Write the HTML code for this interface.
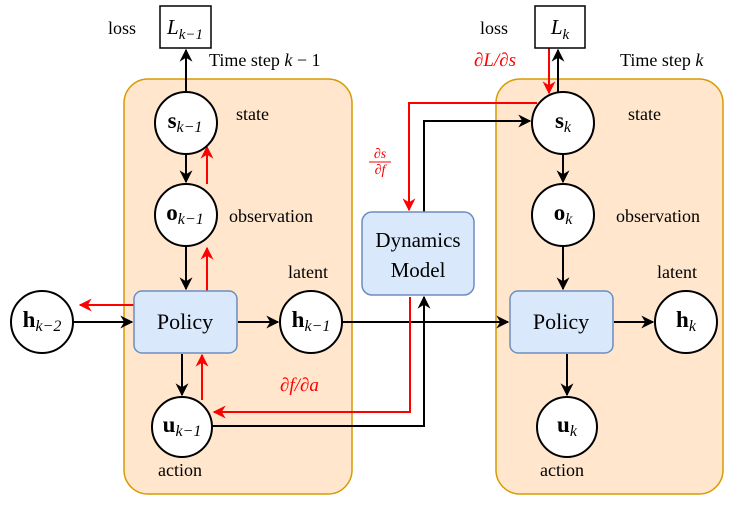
<!DOCTYPE html>
<html><head><style>
body{margin:0;background:#fff}
svg text{font-family:"Liberation Serif",serif}
</style></head><body>
<svg width="746" height="515" viewBox="0 0 746 515" xmlns="http://www.w3.org/2000/svg">
<defs>
<marker id="ab" viewBox="0 0 10 10" refX="9" refY="5" markerWidth="6.5" markerHeight="6.5" orient="auto"><path d="M0,0 L10,5 L0,10 L3,5z" fill="#000"/></marker>
<marker id="ar" viewBox="0 0 10 10" refX="9" refY="5" markerWidth="6.5" markerHeight="6.5" orient="auto"><path d="M0,0 L10,5 L0,10 L3,5z" fill="#f00"/></marker>
</defs>
<rect x="124" y="79" width="228" height="415" rx="24" fill="#ffe6cc" stroke="#d79b00" stroke-width="1.5"/>
<rect x="496" y="79" width="227" height="415" rx="24" fill="#ffe6cc" stroke="#d79b00" stroke-width="1.5"/>
<g stroke-width="2" fill="none">
<path d="M186 92 V50" stroke="#000" marker-end="url(#ab)"/>
<path d="M186 154 V182" stroke="#000" marker-end="url(#ab)"/>
<path d="M186 246 V289" stroke="#000" marker-end="url(#ab)"/>
<path d="M182 354 V395" stroke="#000" marker-end="url(#ab)"/>
<path d="M72 322 H132" stroke="#000" marker-end="url(#ab)"/>
<path d="M238 322 H278" stroke="#000" marker-end="url(#ab)"/>
<path d="M342 322 H508" stroke="#000" marker-end="url(#ab)"/>
<path d="M212 426 H424 V297" stroke="#000" marker-end="url(#ab)"/>
<path d="M424 212 V121 H530" stroke="#000" marker-end="url(#ab)"/>
<path d="M558 92 V50" stroke="#000" marker-end="url(#ab)"/>
<path d="M563 154 V182" stroke="#000" marker-end="url(#ab)"/>
<path d="M563 246 V289" stroke="#000" marker-end="url(#ab)"/>
<path d="M567 354 V395" stroke="#000" marker-end="url(#ab)"/>
<path d="M614 322 H653" stroke="#000" marker-end="url(#ab)"/>
<path d="M549 48 V93" stroke="#f00" marker-end="url(#ar)"/>
<path d="M537 103 H409 V210" stroke="#f00" marker-end="url(#ar)"/>
<path d="M410 297 V412 H214" stroke="#f00" marker-end="url(#ar)"/>
<path d="M202 400 V355" stroke="#f00" marker-end="url(#ar)"/>
<path d="M207 291 V248" stroke="#f00" marker-end="url(#ar)"/>
<path d="M207 184 V147" stroke="#f00" marker-end="url(#ar)"/>
<path d="M134 305 H80" stroke="#f00" marker-end="url(#ar)"/>
</g>
<rect x="160" y="6" width="51" height="42" fill="#fff" stroke="#000" stroke-width="1.5"/>
<rect x="535" y="6" width="50" height="42" fill="#fff" stroke="#000" stroke-width="1.5"/>
<rect x="134" y="291" width="103" height="62" rx="8" fill="#dae8fc" stroke="#6c8ebf" stroke-width="1.5"/>
<rect x="510" y="291" width="103" height="62" rx="8" fill="#dae8fc" stroke="#6c8ebf" stroke-width="1.5"/>
<rect x="362" y="212" width="112" height="83" rx="10" fill="#dae8fc" stroke="#6c8ebf" stroke-width="1.5"/>
<g fill="#fff" stroke="#000" stroke-width="2">
<circle cx="186" cy="123" r="31"/><circle cx="186" cy="215" r="31"/>
<circle cx="311" cy="322" r="31"/><circle cx="182" cy="427" r="30"/>
<circle cx="42" cy="322" r="31"/>
<circle cx="563" cy="123" r="31"/><circle cx="563" cy="215" r="31"/>
<circle cx="686" cy="322" r="31"/><circle cx="567" cy="427" r="30"/>
</g>
<g font-size="17" text-anchor="middle">
<text x="185" y="329" font-size="22" font-family="Liberation Sans">Policy</text>
<text x="561" y="329" font-size="22" font-family="Liberation Sans">Policy</text>
<text x="418" y="247" font-size="21" font-family="Liberation Sans">Dynamics</text>
<text x="418" y="277" font-size="21" font-family="Liberation Sans">Model</text>
<text x="185" y="34" font-style="italic" font-size="21">L<tspan font-size="15" dy="5">k−1</tspan></text>
<text x="560" y="34" font-style="italic" font-size="21">L<tspan font-size="15" dy="5">k</tspan></text>
<text x="185" y="128" font-size="23" font-weight="bold">s<tspan font-size="16" font-weight="normal" font-style="italic" dy="4">k−1</tspan></text>
<text x="185" y="220" font-size="23" font-weight="bold">o<tspan font-size="16" font-weight="normal" font-style="italic" dy="4">k−1</tspan></text>
<text x="311" y="327" font-size="23" font-weight="bold">h<tspan font-size="16" font-weight="normal" font-style="italic" dy="4">k−1</tspan></text>
<text x="182" y="432" font-size="23" font-weight="bold">u<tspan font-size="16" font-weight="normal" font-style="italic" dy="4">k−1</tspan></text>
<text x="42" y="327" font-size="23" font-weight="bold">h<tspan font-size="16" font-weight="normal" font-style="italic" dy="4">k−2</tspan></text>
<text x="563" y="128" font-size="23" font-weight="bold">s<tspan font-size="16" font-weight="normal" font-style="italic" dy="4">k</tspan></text>
<text x="563" y="220" font-size="23" font-weight="bold">o<tspan font-size="16" font-weight="normal" font-style="italic" dy="4">k</tspan></text>
<text x="686" y="327" font-size="23" font-weight="bold">h<tspan font-size="16" font-weight="normal" font-style="italic" dy="4">k</tspan></text>
<text x="567" y="432" font-size="23" font-weight="bold">u<tspan font-size="16" font-weight="normal" font-style="italic" dy="4">k</tspan></text>
</g>
<g font-size="18">
<text x="108" y="34">loss</text>
<text x="480" y="34">loss</text>
<text x="209" y="66">Time step <tspan font-style="italic">k</tspan> − 1</text>
<text x="620" y="66">Time step <tspan font-style="italic">k</tspan></text>
<text x="236" y="120">state</text>
<text x="229" y="222">observation</text>
<text x="288" y="278">latent</text>
<text x="158" y="476">action</text>
<text x="628" y="120">state</text>
<text x="616" y="222">observation</text>
<text x="657" y="278">latent</text>
<text x="540" y="476">action</text>
<g fill="#f00" font-style="italic">
<text x="474" y="66" font-size="19">∂L/∂s</text>
<text x="280" y="391" font-size="19">∂f/∂a</text>
<text x="380" y="158" font-size="14" text-anchor="middle">∂s</text>
<text x="380" y="174" font-size="14" text-anchor="middle">∂f</text>
</g>
<line x1="369" y1="162" x2="391" y2="162" stroke="#f00" stroke-width="1"/>
</g>
</svg>
</body></html>
